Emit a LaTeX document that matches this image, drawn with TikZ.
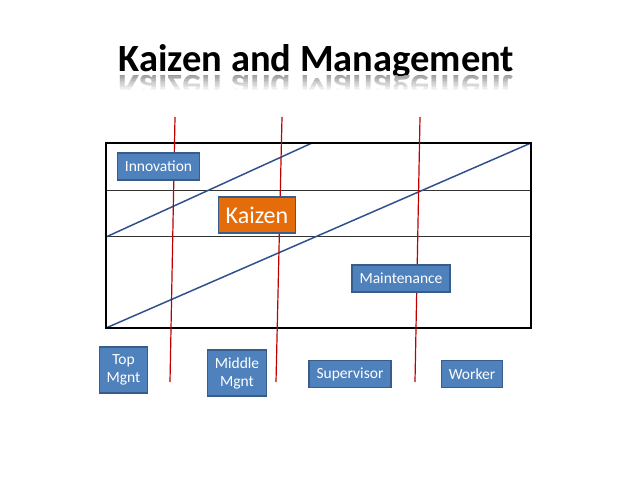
\documentclass[tikz,border=0pt]{standalone}
\usepackage{fontspec}
\setmainfont{Carlito}
\usepackage{tikz}
\definecolor{boxblue}{RGB}{79,129,189}
\definecolor{boxedge}{RGB}{56,93,138}
\definecolor{kaizenorange}{RGB}{228,108,10}
\definecolor{slopeblue}{RGB}{47,82,143}
\definecolor{levelred}{RGB}{192,0,0}
\tikzset{
  rolebox/.style={draw=boxedge, fill=boxblue, line width=1.2pt, text=white,
                  font=\fontsize{15.5}{18}\selectfont, inner xsep=7.5pt, inner ysep=0pt,
                  minimum height=27pt, align=center},
  twoline/.style={minimum height=46pt},
  kaizenbox/.style={rolebox, fill=kaizenorange, font=\fontsize{24}{28}\selectfont, minimum height=36pt},
  titletext/.style={font=\fontsize{38.5}{44}\selectfont\bfseries, inner sep=0pt},
  frame/.style={line width=2pt, black},
  band/.style={line width=0.8pt, black!80},
  slope/.style={line width=1.5pt, slopeblue},
  level/.style={line width=1.2pt, levelred},
}

\begin{document}
\begin{tikzpicture}[x=1pt, y=-1pt]
  \useasboundingbox (0,0) rectangle (638,478);

  % title and its reflection
  \node[titletext, anchor=base] (title) at (316.5,72) {Kaizen and Management};
  \begin{scope}
    \clip (100,76) rectangle (540,96);
    \node[titletext, text=black!40, yscale=-1, anchor=base] (mirror) at (316.5,76) {Kaizen and Management};
    \foreach \i in {0,...,9}
      \fill[white, opacity=0.15+\i*0.095] (100,76+1.6*\i) rectangle (540,77.6+1.6*\i);
    \fill[white] (100,92) rectangle (540,96);
  \end{scope}

  % frame with the three bands
  \coordinate (tl) at (106,143);
  \coordinate (br) at (531,328);
  \draw[band] (106,190) -- (531,190);
  \draw[band] (106,236) -- (531,236);
  \draw[slope] (106,237) -- (312,143);
  \draw[slope] (106,328) -- (531,143);
  \draw[frame] (tl) rectangle (br);

  % management levels
  \draw[level] (175,117) -- (170,382);
  \draw[level] (282,117) -- (276,382);
  \draw[level] (420,117) -- (415,382);

  \node[rolebox] (innovation) at (158.5,166.5) {Innovation};
  \node[kaizenbox] (kaizen) at (257,215) {Kaizen};
  \node[rolebox] (maintenance) at (401,278.5) {Maintenance};

  \node[rolebox, twoline] (top) at (123.5,370) {Top\\Mgnt};
  \node[rolebox, twoline] (middle) at (237,373) {Middle\\Mgnt};
  \node[rolebox] (supervisor) at (350,374) {Supervisor};
  \node[rolebox] (worker) at (472,374) {Worker};
\end{tikzpicture}
\end{document}
